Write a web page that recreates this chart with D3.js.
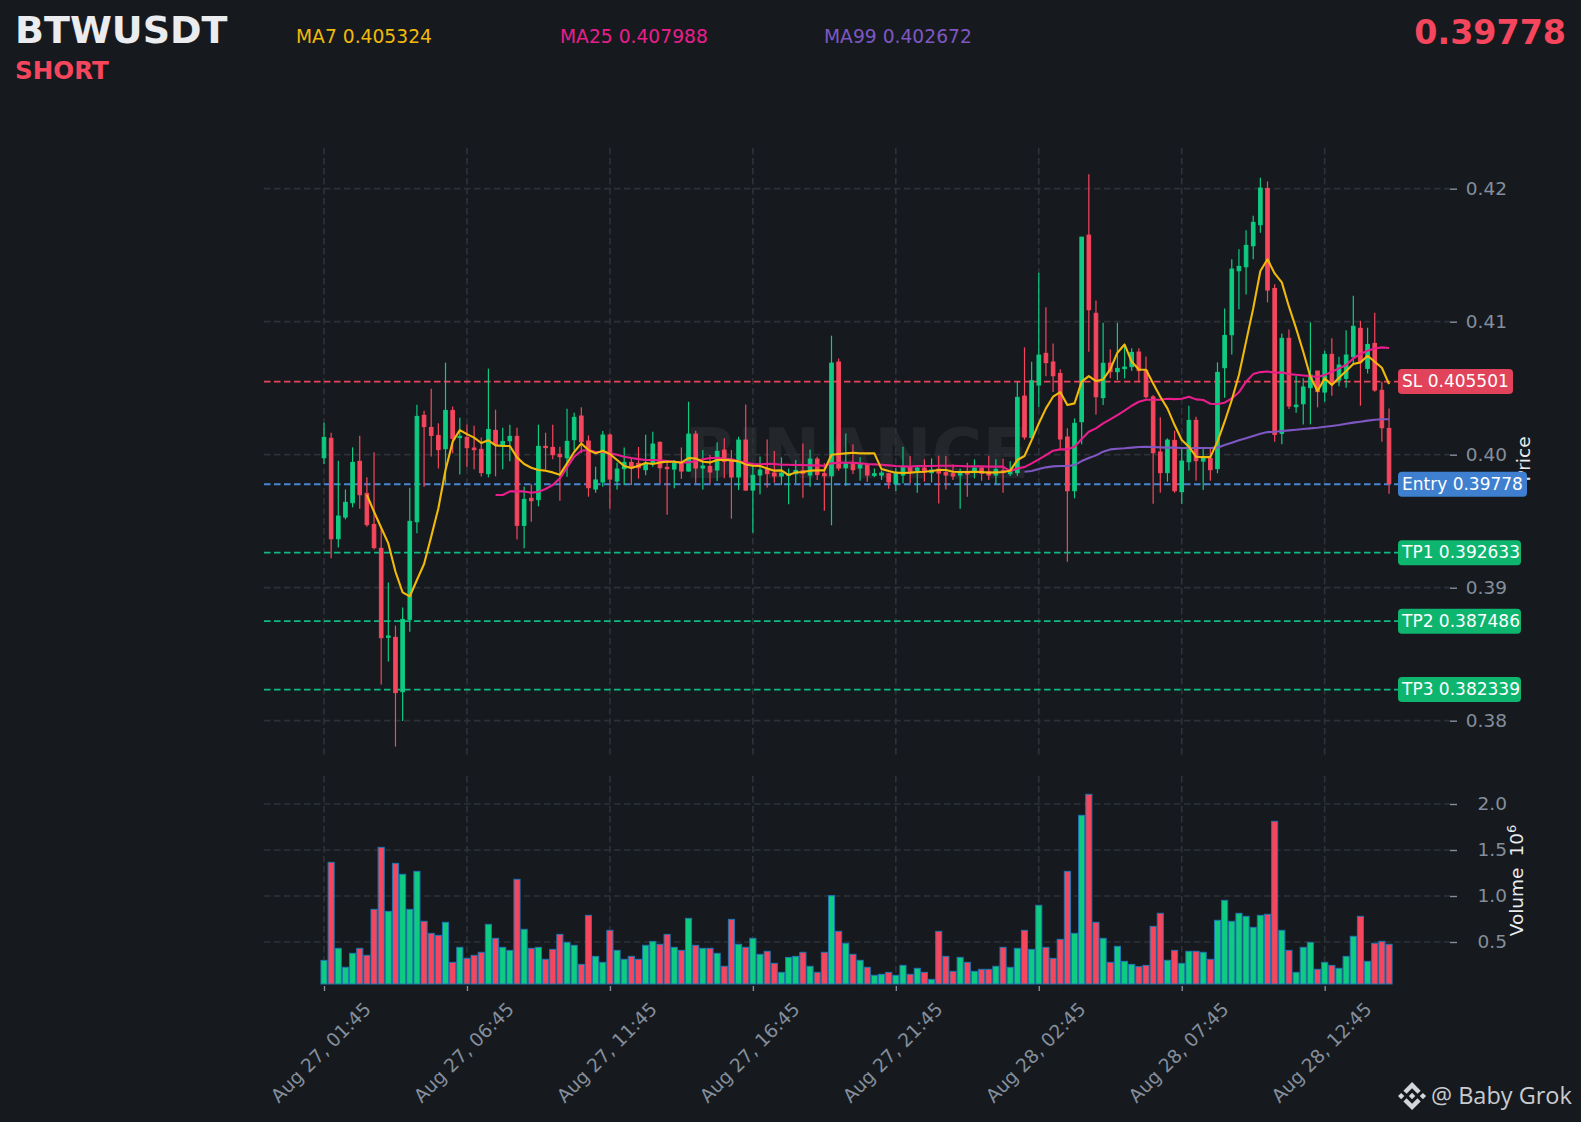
<!DOCTYPE html>
<html><head><meta charset="utf-8">
<script src="https://d3js.org/d3.v7.min.js"></script>
<style>html,body{margin:0;padding:0;background:#161a1e;overflow:hidden}</style>
</head><body><svg id="c" width="1581" height="1122"></svg>
<script>
const symbol="BTWUSDT", side="SHORT", lastPrice="0.39778";
const firstTime=Date.UTC(2025,7,27,1,45), stepMinutes=15;
const opens=[.39977,.40123,.39368,.39531,.39639,.39950,.39709,.39476,.39296,.38627,
.38627,.38218,.38762,.39496,.40296,.40205,.40145,.40045,.40333,.40128,
.40130,.40050,.40040,.39857,.40183,.40070,.40105,.40138,.39469,.39672,
.39662,.40063,.40055,.40003,.39977,.40113,.40291,.40103,.39742,.39795,
.40148,.39802,.39895,.39942,.39935,.39887,.39935,.40093,.39905,.39892,
.39935,.39877,.40155,.39900,.39912,.39885,.40035,.39965,.39832,.40110,
.39734,.39847,.39890,.39862,.39840,.39845,.39857,.39880,.39847,.39967,
.39857,.39842,.40697,.39902,.39935,.39900,.39922,.39845,.39847,.39857,
.39784,.39847,.39902,.39882,.39900,.39865,.39892,.39865,.39857,.39847,
.39872,.39870,.39900,.39872,.39847,.39880,.39857,.39865,.40441,.40128,
.40524,.40762,.40697,.40611,.40133,.39729,.40248,.41651,.41063,.40429,
.40689,.40624,.40647,.40662,.40772,.40634,.40434,.40020,.39865,.40108,
.39722,.39947,.40258,.39952,.39972,.39895,.40654,.40902,.41383,.41413,
.41571,.41729,.42002,.41250,.40160,.40875,.40361,.40383,.40504,.40629,
.40471,.40754,.40561,.40574,.40737,.40950,.40649,.40837,.40484,.40198];
const closes=[.40130,.39368,.39539,.39642,.39942,.39699,.39474,.39301,.38624,.38637,
.38211,.38762,.39499,.40288,.40211,.40145,.40038,.40333,.40123,.40138,
.40053,.40038,.39865,.40190,.40078,.40100,.40138,.39469,.39664,.39654,
.40063,.40053,.40000,.39985,.40100,.40281,.40098,.39752,.39810,.40148,
.39817,.39892,.39942,.39900,.39902,.39935,.40080,.39902,.39895,.39935,
.39877,.40155,.39900,.39915,.39870,.40025,.39950,.39832,.40110,.39734,
.39845,.39885,.39857,.39840,.39862,.39855,.39882,.39860,.39967,.39850,
.39842,.40689,.39900,.39930,.39887,.39930,.39847,.39857,.39862,.39795,
.39857,.39905,.39875,.39900,.39870,.39885,.39862,.39847,.39840,.39865,
.39855,.39900,.39860,.39847,.39890,.39865,.39880,.40431,.40133,.40556,
.40749,.40692,.40594,.40118,.39729,.40236,.41636,.41090,.40436,.40687,
.40624,.40649,.40659,.40769,.40632,.40436,.40015,.39865,.40110,.39729,
.39952,.40258,.39955,.39975,.39887,.40619,.40897,.41396,.41416,.41574,
.41747,.42005,.41238,.40153,.40875,.40366,.40373,.40509,.40599,.40474,
.40754,.40536,.40674,.40749,.40965,.40699,.40829,.40486,.40203,.39784];
const highs=[.40241,.40165,.39955,.39739,.40055,.40143,.39830,.40018,.39459,.39040,
.38714,.38852,.39752,.40376,.40331,.40496,.40236,.40692,.40363,.40278,
.40228,.40218,.40130,.40647,.40338,.40203,.40226,.40203,.39759,.39777,
.40226,.40165,.40226,.40060,.40346,.40316,.40356,.40145,.39910,.40178,
.40160,.39940,.40055,.39980,.40058,.40150,.40173,.40100,.39960,.39960,
.40055,.40398,.40180,.40035,.39997,.40093,.40123,.40035,.40135,.40378,
.39935,.39987,.40115,.40028,.39980,.39897,.39960,.40085,.40040,.39985,
.39935,.40895,.40724,.40160,.40078,.39980,.39935,.39897,.39880,.39865,
.39902,.40060,.39990,.39922,.39965,.39972,.39992,.39990,.39927,.39897,
.39940,.39965,.39915,.39992,.39965,.39972,.39950,.40549,.40807,.40699,
.41368,.41108,.40837,.40642,.40198,.40273,.41636,.42108,.41160,.40992,
.40792,.40992,.40824,.40800,.40800,.40739,.40449,.40281,.40123,.40180,
.40048,.40368,.40286,.40048,.40048,.40694,.41100,.41469,.41544,.41687,
.41797,.42082,.42055,.41281,.40912,.40942,.40594,.40574,.40995,.40629,
.40782,.40875,.40737,.40935,.41195,.41007,.40955,.41068,.40549,.40348];
const lows=[.39930,.39221,.39303,.39514,.39604,.39594,.39459,.39288,.38273,.38446,
.37805,.37998,.38669,.39409,.39759,.39987,.39897,.39784,.40010,.39852,
.39905,.39890,.39837,.39830,.39837,.39890,.39950,.39363,.39296,.39496,
.39612,.39890,.39965,.39654,.39835,.40035,.40010,.39684,.39714,.39759,
.39594,.39739,.39772,.39772,.39820,.39845,.39910,.39782,.39549,.39747,
.39820,.39872,.39784,.39739,.39784,.39802,.39822,.39519,.39734,.39729,
.39414,.39702,.39754,.39790,.39772,.39627,.39784,.39677,.39759,.39810,
.39579,.39469,.39880,.39767,.39855,.39805,.39797,.39830,.39810,.39744,
.39727,.39784,.39785,.39714,.39797,.39792,.39634,.39739,.39810,.39594,
.39684,.39822,.39805,.39810,.39780,.39714,.39840,.39842,.40113,.40122,
.40356,.40589,.40471,.40043,.39196,.39672,.40078,.40774,.40303,.40373,
.40574,.40561,.40574,.40629,.40554,.40423,.39632,.39714,.39797,.39714,
.39632,.39882,.39805,.39734,.39805,.39860,.40429,.40754,.41093,.41205,
.41469,.41669,.41145,.40098,.40078,.40343,.40316,.40228,.40228,.40356,
.40398,.40444,.40514,.40504,.40674,.40368,.40611,.40474,.40098,.39707];
const volumes=[.30,1.366,.431,.225,.377,.431,.355,.855,1.529,.833,
1.355,1.236,.855,1.268,.725,.594,.572,.714,.279,.442,
.322,.355,.388,.692,.54,.442,.409,1.181,.638,.431,
.442,.312,.42,.583,.496,.464,.257,.79,.344,.279,
.627,.409,.312,.344,.312,.464,.507,.475,.583,.442,
.409,.757,.464,.431,.431,.377,.236,.746,.475,.442,
.54,.366,.399,.268,.17,.333,.344,.388,.236,.17,
.388,1.004,.616,.486,.366,.301,.225,.138,.149,.17,
.138,.246,.149,.214,.17,.094,.616,.344,.181,.333,
.279,.181,.203,.203,.236,.442,.225,.431,.627,.42,
.899,.442,.322,.529,1.268,.594,1.877,2.105,.714,.54,
.279,.453,.29,.257,.232,.246,.67,.812,.301,.409,
.268,.399,.399,.388,.312,.736,.953,.725,.812,.779,
.659,.79,.801,1.812,.627,.409,.17,.442,.496,.203,
.279,.246,.214,.344,.562,.779,.29,.486,.507,.475];
const ma7Start=6;
const ma7=[.39697,.39571,.39451,.39333,.39120,.38965,.38935,.39058,.39178,.39384,
.39597,.39885,.40098,.40185,.40155,.40128,.40088,.40108,.40070,.40065,
.40065,.39980,.39930,.39902,.39885,.39880,.39867,.39850,.39935,.40020,
.40085,.40035,.40010,.40030,.40005,.39960,.39915,.39900,.39917,.39937,
.39930,.39942,.39947,.39947,.39940,.39975,.39972,.39947,.39942,.39960,
.39962,.39957,.39950,.39927,.39917,.39915,.39897,.39880,.39882,.39847,
.39867,.39870,.39880,.39882,.39882,.40000,.40005,.40010,.40015,.40010,
.40010,.40010,.39892,.39877,.39865,.39862,.39865,.39870,.39872,.39877,
.39885,.39885,.39872,.39870,.39870,.39872,.39870,.39865,.39867,.39870,
.39880,.39960,.39990,.40110,.40235,.40348,.40436,.40471,.40373,.40386,
.40549,.40591,.40554,.40566,.40641,.40767,.40829,.40699,.40641,.40639,
.40536,.40436,.40348,.40223,.40110,.40060,.39985,.39982,.39982,.40098,
.40248,.40411,.40599,.40850,.41100,.41381,.41469,.41363,.41296,.41113,
.40950,.40774,.40586,.40479,.40574,.40524,.40579,.40629,.40682,.40694,
.40744,.40699,.40654,.40531];
const ma25Start=24;
const ma25=[.39697,.39697,.39724,.39724,.39724,.39714,.39722,.39742,.39772,.39822,
.39905,.39985,.40030,.40035,.40020,.40020,.40010,.40000,.39985,.39975,
.39967,.39960,.39960,.39957,.39952,.39947,.39942,.39942,.39952,.39965,
.39975,.39977,.39970,.39965,.39952,.39940,.39930,.39927,.39932,.39930,
.39925,.39925,.39922,.39922,.39920,.39920,.39917,.39935,.39940,.39940,
.39940,.39935,.39930,.39927,.39925,.39920,.39915,.39912,.39910,.39915,
.39915,.39915,.39917,.39917,.39917,.39915,.39912,.39912,.39912,.39910,
.39910,.39910,.39877,.39897,.39907,.39935,.39965,.39997,.40030,.40040,
.40040,.40060,.40118,.40173,.40198,.40236,.40266,.40298,.40331,.40368,
.40398,.40413,.40413,.40413,.40421,.40418,.40421,.40436,.40416,.40411,
.40383,.40381,.40391,.40423,.40469,.40549,.40606,.40621,.40626,.40616,
.40619,.40606,.40601,.40596,.40591,.40584,.40599,.40624,.40649,.40674,
.40724,.40757,.40782,.40799,.40807,.40802];
const ma99Start=98;
const ma99=[.39872,.39877,.39892,.39905,.39912,.39915,.39915,.39922,.39952,.39975,
.39995,.40023,.40040,.40045,.40048,.40053,.40058,.40060,.40058,.40055,
.40053,.40053,.40050,.40050,.40050,.40050,.40050,.40053,.40073,.40090,
.40108,.40123,.40140,.40158,.40170,.40173,.40178,.40183,.40188,.40193,
.40198,.40203,.40210,.40216,.40223,.40233,.40241,.40248,.40256,.40263,
.40266,.40266];
const priceTicks=[0.38,0.39,0.40,0.41,0.42];
const volumeTicks=[0.5,1.0,1.5,2.0];
const xTickIndex=[0,20,40,60,80,100,120,140];
const levelNames=["SL","Entry","TP1","TP2","TP3"];
const levelValues=[0.405501,0.39778,0.392633,0.387486,0.382339];
const levelLabels=["0.405501","0.39778","0.392633","0.387486","0.382339"];
const legendNames=["MA7 0.405324","MA25 0.407988","MA99 0.402672"];

const C={bg:"#161a1e",grid:"#2d3138",tick:"#848e9c",up:"#0ecb81",down:"#f6465d",white:"#eaecef",
  ma7:"#f0b90b",ma25:"#e91e8c",ma99:"#7e57c2",edge:"#1f77b4",wm:"#23262b"};
const levelColors=["#e5445c","#4a86d0","#10b981","#10b981","#10b981"];
const boxColors=["#e0435a","#3f7fcf","#0eb56f","#0eb56f","#0eb56f"];
const boxWidths=[115,129,123,123,123];
const FONT="'DejaVu Sans',sans-serif";
const n=closes.length;
const tm=i=>new Date(firstTime+i*stepMinutes*60000);
const svg=d3.select("#c").style("background",C.bg).style("font-family",FONT);

const L={left:264,right:1450,pTop:148,pBot:756,vTop:776,vBot:984};
const x=d3.scaleTime().domain([tm(0),tm(140)]).range([324,1324.7]);
const yP=d3.scaleLinear().domain([0.38,0.42]).range([720.7,188.7]);
const yV=d3.scaleLinear().domain([0.5,2.0]).range([942,804]);
const xTicks=xTickIndex.map(tm);

// watermark
svg.append("text").attr("x",857).attr("y",478).attr("text-anchor","middle")
  .attr("font-size",69).attr("font-weight","bold").attr("fill",C.wm).text("BINANCE");

// grids
const gridG=svg.append("g").attr("stroke",C.grid).attr("stroke-width",1.7).attr("stroke-dasharray","6.5,3.5").attr("fill","none");
gridG.selectAll(".gp").data(priceTicks).join("line").attr("x1",L.left).attr("x2",L.right).attr("y1",d=>yP(d)).attr("y2",d=>yP(d));
gridG.selectAll(".gv").data(volumeTicks).join("line").attr("x1",L.left).attr("x2",L.right).attr("y1",d=>yV(d)).attr("y2",d=>yV(d));
gridG.selectAll(".vp").data(xTicks).join("line").attr("x1",d=>x(d)).attr("x2",d=>x(d)).attr("y1",L.pTop).attr("y2",L.pBot);
gridG.selectAll(".vv").data(xTicks).join("line").attr("x1",d=>x(d)).attr("x2",d=>x(d)).attr("y1",L.vTop).attr("y2",L.vBot);

// axis titles (labels sit on top of Price)
svg.append("text").attr("transform","translate(1530,459) rotate(-90)").attr("text-anchor","middle")
  .attr("font-size",18.5).attr("fill",C.white).text("Price");
const vt=svg.append("text").attr("transform","translate(1523,880.5) rotate(-90)").attr("text-anchor","middle")
  .attr("font-size",18.5).attr("fill",C.white);
vt.append("tspan").text("Volume");
vt.append("tspan").attr("dx",11).text("10");
vt.append("tspan").attr("font-size",13).attr("dy",-7).text("6");

// level lines
svg.append("g").selectAll("line").data(levelValues).join("line")
  .attr("x1",L.left).attr("x2",1400).attr("y1",d=>yP(d)).attr("y2",d=>yP(d))
  .attr("stroke",(d,i)=>levelColors[i]).attr("stroke-width",1.8).attr("stroke-dasharray","6.5,3.5");

// candles
const idx=d3.range(n);
const col=i=>closes[i]>=opens[i]?C.up:C.down;
svg.append("g").selectAll("line").data(idx).join("line")
  .attr("x1",i=>x(tm(i))).attr("x2",i=>x(tm(i))).attr("y1",i=>yP(highs[i])).attr("y2",i=>yP(lows[i]))
  .attr("stroke",col).attr("stroke-width",1.2);
svg.append("g").selectAll("rect").data(idx).join("rect")
  .attr("x",i=>x(tm(i))-1.8).attr("width",3.6)
  .attr("y",i=>yP(Math.max(opens[i],closes[i]))).attr("height",i=>Math.abs(yP(opens[i])-yP(closes[i])))
  .attr("fill",col).attr("stroke",col).attr("stroke-width",1);

// MA lines
const maLine=start=>d3.line().x((d,i)=>x(tm(i+start))).y(d=>yP(d));
[[ma99,ma99Start,C.ma99],[ma25,ma25Start,C.ma25],[ma7,ma7Start,C.ma7]].forEach(([a,s,c])=>{
  svg.append("path").attr("d",maLine(s)(a)).attr("fill","none").attr("stroke",c).attr("stroke-width",2.1).attr("stroke-linejoin","round");
});

// volume bars
svg.append("g").selectAll("rect").data(idx).join("rect")
  .attr("x",i=>x(tm(i))-3.05).attr("width",6.1)
  .attr("y",i=>yV(volumes[i])).attr("height",i=>L.vBot-yV(volumes[i]))
  .attr("fill",col).attr("stroke",C.edge).attr("stroke-width",1);

// axes
function styleAxis(g){
  g.select(".domain").remove();
  g.selectAll("line").attr("stroke",C.tick).attr("stroke-width",1.4);
  g.selectAll("text").attr("fill",C.tick).attr("font-size",18.5).attr("font-family",FONT);
}
const pAxis=svg.append("g").attr("transform",`translate(${L.right},0)`)
  .call(d3.axisRight(yP).tickValues(priceTicks).tickSize(7).tickFormat(d3.format(".2f"))).call(styleAxis);
pAxis.selectAll("text").attr("text-anchor","end").attr("x",57);
const vAxis=svg.append("g").attr("transform",`translate(${L.right},0)`)
  .call(d3.axisRight(yV).tickValues(volumeTicks).tickSize(7).tickFormat(d3.format(".1f"))).call(styleAxis);
vAxis.selectAll("text").attr("text-anchor","end").attr("x",57);
const fmt=d3.utcFormat("%b %d, %H:%M");
const xAxis=svg.append("g").attr("transform",`translate(0,${L.vBot+2})`)
  .call(d3.axisBottom(x).tickValues(xTicks).tickSize(5).tickFormat(fmt)).call(styleAxis);
xAxis.selectAll("text").attr("font-size",18.7).attr("text-anchor","middle").attr("dy",0).attr("y",0)
  .attr("transform","translate(1,71) rotate(-45)");

// level boxes
const boxG=svg.append("g").selectAll("g").data(levelValues).join("g")
  .attr("transform",d=>`translate(1398,${yP(d)})`);
boxG.append("rect").attr("y",-12.5).attr("height",25).attr("rx",4).attr("width",(d,i)=>boxWidths[i]).attr("fill",(d,i)=>boxColors[i]);
boxG.append("text").attr("x",4).attr("y",5.7).attr("font-size",17).attr("fill","#fff")
  .text((d,i)=>levelNames[i]+" "+levelLabels[i]);

// header
svg.append("text").attr("x",15).attr("y",43).attr("font-size",38).attr("font-weight","bold").attr("fill",C.white).text(symbol);
svg.append("text").attr("x",15).attr("y",79).attr("font-size",24.6).attr("font-weight","bold").attr("fill",C.down).text(side);
svg.append("text").attr("x",1566).attr("y",44).attr("text-anchor","end").attr("font-size",33.3).attr("font-weight","bold").attr("fill",C.down).text(lastPrice);
svg.append("g").selectAll("text").data(legendNames).join("text")
  .attr("x",(d,i)=>[296,560,824][i]).attr("y",43).attr("font-size",18.7)
  .attr("fill",(d,i)=>[C.ma7,C.ma25,C.ma99][i]).text(d=>d);

// signature
const logo=svg.append("g").attr("transform","translate(1398,1082) scale(0.222)").attr("fill","#d4d6d9");
logo.append("path").attr("d","m38.73 53.2 24.59-24.58 24.6 24.6 14.3-14.31L63.32 0 24.42 38.9zM0 63.31l14.3-14.31 14.31 14.31-14.31 14.3zM38.73 73.41l24.59 24.59 24.6-24.6 14.31 14.29-38.9 38.91-38.91-38.88-.02-.02zM98 63.31l14.3-14.31 14.31 14.3-14.31 14.32zM77.83 63.3 63.32 48.78 52.59 59.51l-1.24 1.23-2.54 2.54 14.51 14.5 14.51-14.47z");
svg.append("text").attr("x",1431).attr("y",1104).attr("font-size",23.5).attr("font-family","'Open Sans',sans-serif").attr("fill","#c8cbd0").text("@ Baby Grok");
</script></body></html>
